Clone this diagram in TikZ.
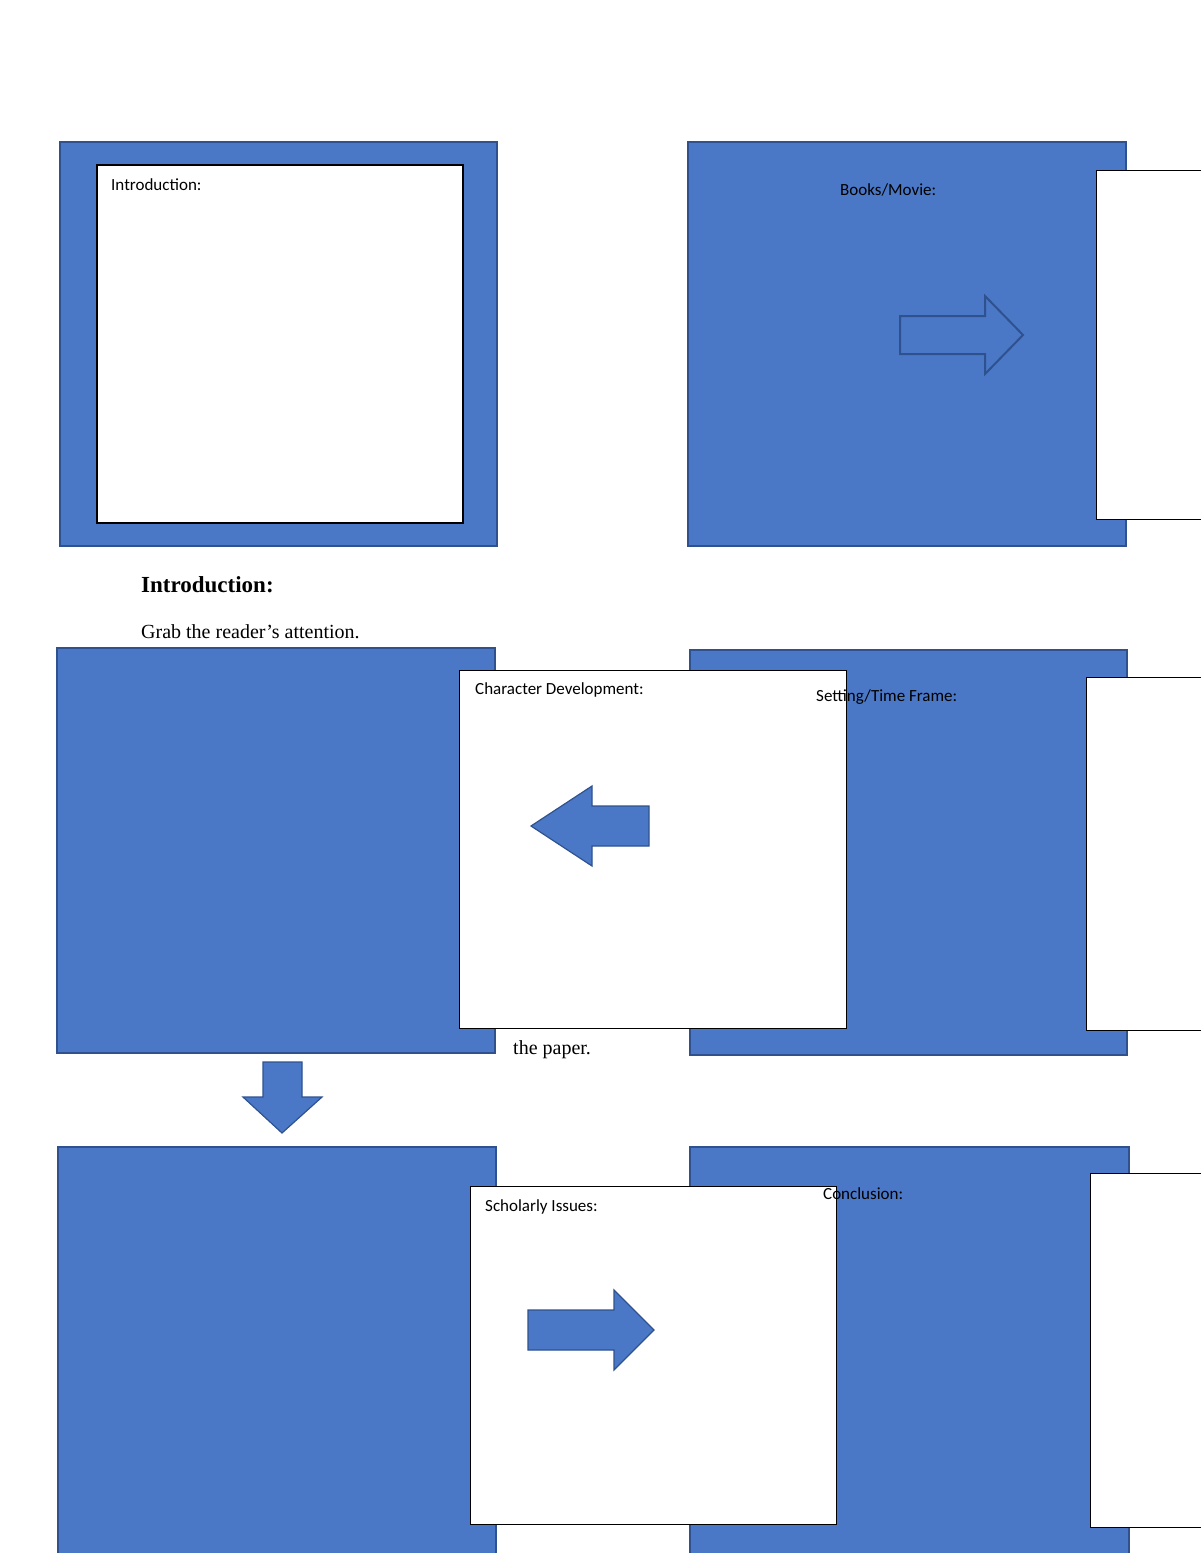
\documentclass[tikz,border=0pt]{standalone}
\usepackage{fontspec}
\setmainfont{Liberation Serif}
\newfontfamily\calfont{Carlito}
\definecolor{bfill}{HTML}{4A78C6}
\definecolor{bline}{HTML}{2F528F}
\begin{document}
\begin{tikzpicture}[x=1pt,y=-1pt,
  bluebox/.style={fill=bfill,draw=bline,line width=1.2pt},
  whitebox/.style={fill=white,draw=black,line width=0.8pt},
  lbl/.style={anchor=north west,inner sep=0pt,font=\calfont\fontsize{17}{20}\selectfont},
  arr/.style={fill=bfill,draw=bline,line width=1.2pt,line join=miter}]
\useasboundingbox[fill=white] (0,0) rectangle (1200,1553);
% top row
\draw[bluebox] (60,142) rectangle (497,546);
\draw[whitebox,line width=2.2pt] (97,165) rectangle (463,523);
\node[lbl] (t1) at (111,178) {Introduction:};
\draw[bluebox] (688,142) rectangle (1126,546);
\draw[whitebox] (1096,170) rectangle (1202,519);
\node[lbl] (t2) at (840,183) {Books/Movie:};
\draw[arr,line width=2pt] (900,316) -- (985,316) -- (985,296) -- (1023,335) -- (985,374) -- (985,354) -- (900,354) -- cycle;
% texts
\node[anchor=west,inner sep=0pt,font=\bfseries\fontsize{23}{26}\selectfont] (h) at (141,585) {Introduction:};
\node[anchor=west,inner sep=0pt,font=\fontsize{20}{24}\selectfont] (g) at (141,632) {Grab the reader's attention.};
% middle row
\draw[bluebox] (57,648) rectangle (495,1053);
\draw[bluebox] (690,650) rectangle (1127,1055);
\draw[whitebox] (1086,677) rectangle (1202,1030);
\draw[whitebox] (459,670) rectangle (846,1028);
\node[lbl] (t3) at (475,682) {Character Development:};
\node[lbl] (t4) at (816,689) {Setting/Time Frame:};
\draw[arr] (531,826) -- (592,786) -- (592,806) -- (649,806) -- (649,846) -- (592,846) -- (592,866) -- cycle;
\node[anchor=west,inner sep=0pt,font=\fontsize{20}{24}\selectfont] (p) at (513,1050) {the paper.};
\draw[arr] (263,1062) -- (302,1062) -- (302,1097) -- (322,1097) -- (282,1133) -- (243,1097) -- (263,1097) -- cycle;
% bottom row
\draw[bluebox] (58,1147) rectangle (496,1555);
\draw[bluebox] (690,1147) rectangle (1129,1555);
\draw[whitebox] (1090,1173) rectangle (1202,1527);
\draw[whitebox] (470,1186) rectangle (836,1524);
\node[lbl] (t5) at (485,1199) {Scholarly Issues:};
\node[lbl] (t6) at (823,1187) {Conclusion:};
\draw[arr] (528,1310) -- (614,1310) -- (614,1290) -- (654,1330) -- (614,1370) -- (614,1350) -- (528,1350) -- cycle;
\end{tikzpicture}
\end{document}
